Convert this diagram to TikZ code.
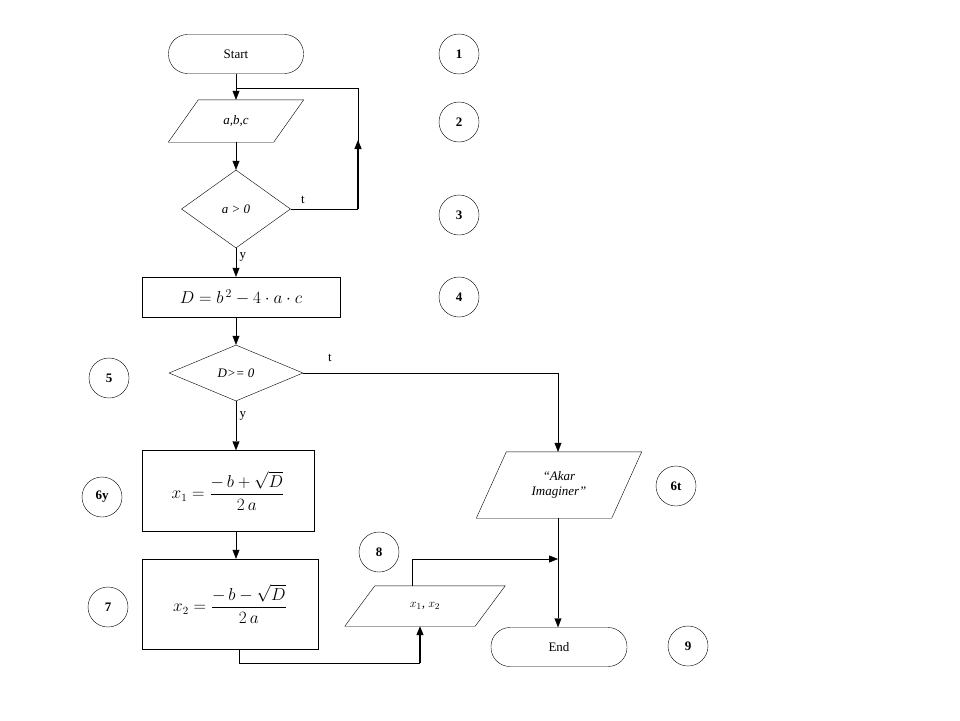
\documentclass[tikz,border=0pt]{standalone}
\usepackage{fontspec}
\setmainfont{Liberation Serif}
\usetikzlibrary{shapes.geometric,arrows.meta}
\begin{document}
\begin{tikzpicture}[x=1pt,y=-1pt,
  every node/.style={font=\fontsize{13}{15}\selectfont},
  term/.style={draw,rounded corners=19pt,minimum width=135pt,minimum height=39pt,inner sep=0},
  io/.style={inner sep=0,minimum height=40pt},
  dec/.style={draw,diamond,inner sep=0},
  proc/.style={draw,inner sep=0},
  num/.style={draw,circle,minimum size=40pt,inner sep=0,font=\bfseries\fontsize{13}{15}\selectfont},
  arr/.style={-{Triangle[length=9pt,width=7pt]}},
  lab/.style={font=\fontsize{13}{15}\selectfont}]
\useasboundingbox (0,0) rectangle (960,720);
\newcommand\para[2]{\draw ([xshift=#2]#1.north west) -- ([xshift=#2]#1.north east) -- ([xshift=-#2]#1.south east) -- ([xshift=-#2]#1.south west) -- cycle;}
\node[term] (start) at (236,54) {Start};
\node[io,minimum width=105pt,minimum height=42pt] (abc) at (236,121) {\itshape a,b,c};
\para{abc}{15pt}
\node[dec,minimum width=109pt,minimum height=78pt] (d1) at (236,209) {\itshape a > 0};
\node[proc,minimum width=198pt,minimum height=40pt] (dbox) at (241,297) {\fontsize{17}{19}\selectfont $D = b^{\,2} - 4\cdot a\cdot c$};
\node[dec,minimum width=134pt,minimum height=56pt] (d2) at (236,373) {\itshape D>= 0};
\node[proc,minimum width=172pt,minimum height=81pt] (x1) at (228,491) {\fontsize{16}{18}\selectfont $\displaystyle x_1 = \frac{-\,b + \sqrt{D}}{2\,a}$};
\node[proc,minimum width=176pt,minimum height=90pt] (x2) at (230,604) {\fontsize{16}{18}\selectfont $\displaystyle x_2 = \frac{-\,b - \sqrt{D}}{2\,a}$};
\node[io,minimum width=135pt,minimum height=66pt,align=center] (akar) at (559,485) {\itshape ``Akar\\\itshape Imaginer''};
\para{akar}{15pt}
\node[io,minimum width=130pt] (out) at (425,606) {\itshape $x_1$, $x_2$};
\para{out}{15pt}
\node[term,minimum width=136pt] (end) at (559,647) {End};
\node[num] at (459,54) {1};
\node[num] at (459,122) {2};
\node[num] at (459,215) {3};
\node[num] at (459,297) {4};
\node[num] at (109,378) {5};
\node[num] at (102,497) {6y};
\node[num] at (676,486) {6t};
\node[num] at (108,607) {7};
\node[num] at (379,552) {8};
\node[num] at (688,646) {9};
\coordinate (c1) at (358,209);
\coordinate (c2) at (358,88);
\coordinate (c3) at (236,88);
\coordinate (c4) at (558,373);
\coordinate (c5) at (239,663);
\coordinate (c6) at (420,663);
\coordinate (c7) at (412,559);
\coordinate (c8) at (558,559);
\draw[arr] (start) -- (abc);
\draw[arr] (abc) -- (d1);
\draw (d1.east) -- (c1);
\draw[arr,line width=1.2pt] (c1) -- (358,140);
\draw (358,142) -- (c2) -- (c3);
\draw[arr] (d1.south) -- (dbox.north -| d1) node[lab,pos=0.3,right] {y};
\node[lab] at (303,200) {t};
\draw[arr] (dbox.south -| d2) -- (d2);
\draw[arr] (d2.east) -- (c4) -- (akar.north -| c4);
\node[lab] at (330,358) {t};
\draw[arr] (d2) -- (x1.north -| d2) node[lab,pos=0.3,right] {y};
\draw[arr] (x1.south -| d2) -- (x2.north -| d2);
\draw (x2.south -| c5) -- (c5) -- (c6);
\draw[arr,line width=1.2pt] (c6) -- (out.south -| c6);
\draw (out.north -| c7) -- (c7);
\draw[arr] (c7) -- (c8);
\draw[arr] (akar.south -| c4) -- (end.north -| c4);
\end{tikzpicture}
\end{document}
